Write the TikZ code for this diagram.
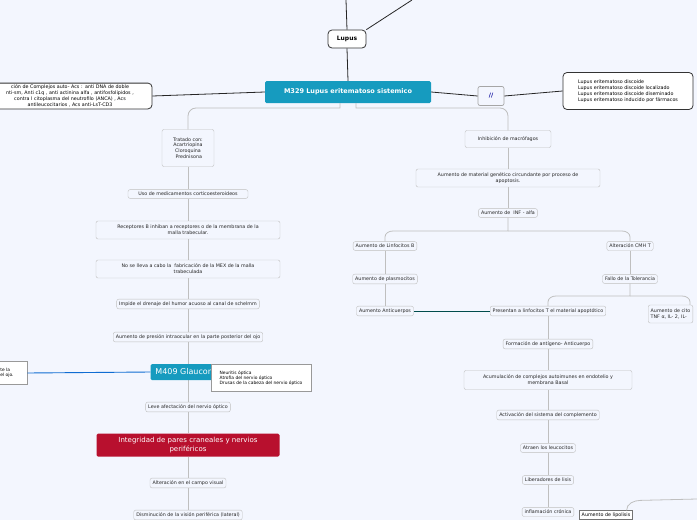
\documentclass[tikz,border=0pt]{standalone}
\usepackage{fontspec}
\setmainfont{DejaVu Sans}
\definecolor{mteal}{HTML}{169BBF}
\definecolor{mred}{HTML}{B8102E}
\definecolor{bgc}{HTML}{F3F6FE}
\begin{document}
\begin{tikzpicture}[x=1pt,y=-1pt,
 sub/.style={draw=black!25,fill=bgc,rounded corners=2pt,font=\fontsize{4.8}{5.8}\selectfont,text=black!85,align=center,inner sep=2.5pt},
 wbox/.style={draw=black!80,fill=white,rounded corners=4pt,line width=0.8pt,font=\fontsize{4.8}{5.8}\selectfont,align=center,inner sep=2pt},
 sq/.style={draw=black!40,fill=white,line width=0.6pt,font=\fontsize{4.4}{5.2}\selectfont,align=left,inner sep=2pt},
 main/.style={fill=mteal,text=white,rounded corners=1.5pt,font=\bfseries\fontsize{6.5}{8}\selectfont,inner sep=0pt},
 ln/.style={draw=black!25,line width=0.8pt},
 dk/.style={draw=black!85,line width=0.8pt}]
\useasboundingbox[fill=bgc] (0,0) rectangle (697,520);
% top
\node[wbox,minimum width=38,minimum height=18,font=\bfseries\fontsize{6}{7}\selectfont] (lupus) at (347,39) {Lupus};
\coordinate (t1) at (346,0); \coordinate (t2) at (412,0);
\draw[dk] (lupus.north) -- (t1);
\draw[dk] (lupus.north east) -- (t2);
\node[main,minimum width=166,minimum height=22] (m329) at (348,92) {M329 Lupus eritematoso sistemico};
\draw[dk] (lupus.south) -- (m329.north);
\node[wbox,text width=160,align=center] (lb) at (70,96) {ción de Complejos auto- Acs : anti DNA de doble\\ nti-sm, Anti c1q , anti actinina alfa , antifosfolipidos ,\\ contra l citoplasma del neutrofilo (ANCA) , Acs\\ antileucocitarios , Acs anti-LsT-CD3};
\draw[dk] (m329.west) -- (lb.east);
\node[sub,draw=black!35,line width=0.7pt,minimum width=26,minimum height=19,font=\bfseries\fontsize{6}{7}\selectfont,text=blue!60!black] (sl) at (491,96) {//};
\draw[dk] (m329.east) -- (sl.west);
\node[wbox,align=left,minimum width=130,minimum height=37] (rb) at (628,91) {Lupus eritematoso discoide\\Lupus eritematoso discoide localizado\\Lupus eritematoso discoide diseminado\\Lupus eritematoso inducido por fármacos};
\draw[dk] (sl.east) -- (rb.west);
% left column
\node[sub,minimum width=52,minimum height=37] (tr) at (188,148) {Tratado con:\\Acartriopina\\Cloroquina\\ \ Prednisona};
\draw[ln] (340,103) -- (340,108) -- (196,108) to[out=180,in=90] (188,116) -- (tr.north);
\node[sub,minimum width=120] (l1) at (188,194) {Uso de medicamentos corticoesteroideos};
\node[sub,minimum width=184,minimum height=18] (l2) at (188,230) {Receptores B inhiban a receptores o de la membrana de la\\ malla trabecular.};
\node[sub,minimum width=184,minimum height=18] (l3) at (188,269) {No se lleva a cabo la \ fabricación de la MEX de la malla\\ trabeculada};
\node[sub] (l4) at (188,304) {Impide el drenaje del humor acuoso al canal de schelmm};
\node[sub] (l5) at (188,337) {Aumento de presión intraocular en la parte posterior del ojo};
\draw[ln] (tr) -- (l1); \draw[ln] (l1) -- (l2); \draw[ln] (l2) -- (l3); \draw[ln] (l3) -- (l4); \draw[ln] (l4) -- (l5);
\node[sub] (l6) at (188,407) {Leve afectación del nervio óptico};
\node[fill=mred,text=white,rounded corners=1.5pt,font=\fontsize{7}{8.5}\selectfont,align=center,minimum width=183,minimum height=23] (red) at (188,445) {Integridad de pares craneales y nervios\\ periféricos};
\node[sub] (l7) at (188,483) {Alteración en el campo visual};
\node[sub] (l8) at (188,515) {Disminución de la visión periférica (lateral)};
\draw[ln] (l5) -- (l6); \draw[ln] (l6) -- (red); \draw[ln] (red) -- (l7); \draw[ln] (l7) -- (l8);
\node[main,font=\fontsize{8}{9}\selectfont,minimum width=75,minimum height=16] (gl) at (188,372) {M409 Glaucoma};
\node[sq,minimum width=100,minimum height=27] (nb) at (261,378) {Neuritis óptica\\Atrofia del nervio óptico\\Drusas de la cabeza del nervio óptico};
\node[sq,minimum width=40,minimum height=23,align=left] (gl2) at (7,373) {te la\\el ojo.};
\draw[draw=mteal!70!blue,line width=0.9pt] (gl.west) -- (gl2.east);
% right column
\node[sub,minimum width=86,minimum height=17] (r1) at (508,139) {Inhibición de macrófagos};
\draw[ln] (356,103) -- (356,108) -- (500,108) to[out=0,in=90] (508,116) -- (r1.north);
\node[sub,minimum width=184,minimum height=18] (r2) at (508,178) {Aumento de material genético circundante por proceso de\\ apoptosis.};
\node[sub] (r3) at (508,213) {Aumento de \ INF - alfa};
\draw[ln] (r1) -- (r2); \draw[ln] (r2) -- (r3);
\node[sub] (a1) at (385,246) {Aumento de Linfocitos B};
\node[sub] (a2) at (385,279) {Aumento de plasmocitos};
\node[sub] (a3) at (385,311) {Aumento Anticuerpos};
\node[sub] (b1) at (630,246) {Alteración CMH T};
\node[sub] (b2) at (630,279) {Fallo de la Tolerancia};
\draw[ln] (r3.south) -- (508,231) -- (393,231) to[out=180,in=90] (385,237) -- (a1.north);
\draw[ln] (508,231) -- (622,231) to[out=0,in=90] (630,237) -- (b1.north);
\draw[ln] (a1) -- (a2); \draw[ln] (a2) -- (a3); \draw[ln] (b1) -- (b2);
\node[sub] (p1) at (548,311) {Presentan a linfocitos T el material apoptótico};
\node[sub,align=left,anchor=west,minimum height=18] (p2) at (648,314) {Aumento de cito\\TNF α, IL- 2, IL-};
\draw[ln] (b2.south) -- (630,296) -- (556,296) to[out=180,in=90] (548,302) -- (p1.north);
\draw[ln] (630,296) -- (682,296) to[out=0,in=90] (690,302) -- (p2.north -| 690,0);
\draw[draw=teal!60!black,line width=0.8pt] (a3.east) -- (p1.west);
\node[sub] (q1) at (548,344) {Formación de antígeno- Anticuerpo};
\node[sub,minimum width=168,minimum height=19] (q2) at (548,380) {Acumulación de complejos autoimunes en endotelio y\\ membrana Basal};
\node[sub] (q3) at (548,415) {Activación del sistema del complemento};
\node[sub] (q4) at (548,448) {Atraen los leucocitos};
\node[sub] (q5) at (548,480) {Liberadores de lisis};
\node[sub] (q6) at (548,512) {inflamación crónica};
\draw[ln] (p1) -- (q1); \draw[ln] (q1) -- (q2); \draw[ln] (q2) -- (q3); \draw[ln] (q3) -- (q4); \draw[ln] (q4) -- (q5); \draw[ln] (q5) -- (q6);
\node[sq,draw=black!55,font=\fontsize{4.8}{5.8}\selectfont] (lip) at (606,515) {Aumento de lipolisis};
\coordinate (lipend) at (697,499);
\draw[ln] (lip.north east) ++(-6,0) to[out=90,in=180] ++(14,-10) -- (lipend);
\end{tikzpicture}
\end{document}
